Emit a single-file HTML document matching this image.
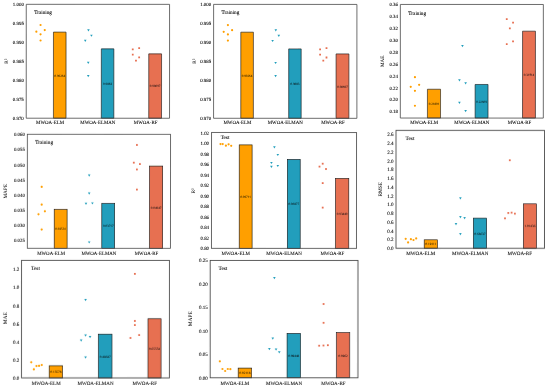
<!DOCTYPE html>
<html lang="en"><head><meta charset="utf-8"><title>Model comparison</title>
<style>html,body{margin:0;padding:0;background:#fff}body{width:550px;height:388px;overflow:hidden}svg{display:block}text{font-family:"Liberation Serif", serif;fill:#000;stroke:#000;stroke-width:0.08px;text-rendering:geometricPrecision}.tk{font-size:4.9px;text-anchor:end}.xl{font-size:4.9px;text-anchor:middle}.ti{font-size:5.2px}.yl{font-size:5.2px;text-anchor:middle;stroke-width:0.03px}.bv{font-size:3.25px;stroke-width:0.03px;text-anchor:middle;fill:#111}</style></head><body>
<svg width="550" height="388" viewBox="0 0 550 388">
<rect width="550" height="388" fill="#fff"/>
<defs><filter id="soft" x="0" y="0" width="550" height="388" filterUnits="userSpaceOnUse"><feGaussianBlur stdDeviation="0.35"/></filter></defs>
<g filter="url(#soft)"><g transform="rotate(0.02 275 194)">
<g>
<rect x="53.40" y="32.20" width="12.60" height="86.10" fill="#FF9F00" stroke="#111" stroke-width="0.6"/>
<text class="bv" style="font-size:3.25px" x="59.70" y="76.65">0.99264</text>
<rect x="101.30" y="48.90" width="12.50" height="69.40" fill="#219EBC" stroke="#111" stroke-width="0.6"/>
<text class="bv" style="font-size:3.25px" x="107.55" y="85.00">0.9883</text>
<rect x="148.70" y="53.90" width="12.80" height="64.40" fill="#E76F51" stroke="#111" stroke-width="0.6"/>
<text class="bv" style="font-size:3.25px" x="155.10" y="87.50">0.98697</text>
<circle cx="40.50" cy="25.10" r="1.1" fill="#FF9F00"/>
<circle cx="44.70" cy="30.20" r="1.1" fill="#FF9F00"/>
<circle cx="36.30" cy="31.80" r="1.1" fill="#FF9F00"/>
<circle cx="40.50" cy="34.40" r="1.1" fill="#FF9F00"/>
<circle cx="40.50" cy="40.60" r="1.1" fill="#FF9F00"/>
<path d="M87.10 29.30h2.60l-1.30 2.20z" fill="#219EBC"/>
<path d="M90.10 34.70h2.60l-1.30 2.20z" fill="#219EBC"/>
<path d="M83.90 39.90h2.60l-1.30 2.20z" fill="#219EBC"/>
<path d="M86.90 61.90h2.60l-1.30 2.20z" fill="#219EBC"/>
<path d="M86.90 75.10h2.60l-1.30 2.20z" fill="#219EBC"/>
<rect x="131.80" y="48.50" width="1.8" height="1.8" fill="#E76F51"/>
<rect x="138.20" y="47.20" width="1.8" height="1.8" fill="#E76F51"/>
<rect x="131.80" y="53.70" width="1.8" height="1.8" fill="#E76F51"/>
<rect x="138.20" y="56.60" width="1.8" height="1.8" fill="#E76F51"/>
<rect x="135.00" y="59.70" width="1.8" height="1.8" fill="#E76F51"/>
<rect x="26.20" y="4.40" width="143.30" height="113.90" fill="none" stroke="#444" stroke-width="0.78"/>
<text class="tk" style="font-size:4.90px" x="23.80" y="6.40">1.000</text>
<text class="tk" style="font-size:4.90px" x="23.80" y="25.38">0.995</text>
<text class="tk" style="font-size:4.90px" x="23.80" y="44.36">0.990</text>
<text class="tk" style="font-size:4.90px" x="23.80" y="63.34">0.985</text>
<text class="tk" style="font-size:4.90px" x="23.80" y="82.32">0.980</text>
<text class="tk" style="font-size:4.90px" x="23.80" y="101.30">0.975</text>
<text class="tk" style="font-size:4.90px" x="23.80" y="120.28">0.970</text>
<text class="xl" style="font-size:4.90px" x="50.08" y="124.20">MWOA-ELM</text>
<text class="xl" style="font-size:4.90px" x="97.85" y="124.20">MWOA-ELMAN</text>
<text class="xl" style="font-size:4.90px" x="145.62" y="124.20">MWOA-RF</text>
<text class="ti" style="font-size:5.20px" x="34.20" y="13.60">Training</text>
<text class="yl" style="font-size:5.20px" transform="translate(8.30 61.35) rotate(-90)">R²</text>
</g>
<g>
<rect x="240.75" y="32.20" width="12.60" height="86.10" fill="#FF9F00" stroke="#111" stroke-width="0.6"/>
<text class="bv" style="font-size:3.25px" x="247.05" y="76.65">0.99264</text>
<rect x="288.65" y="48.90" width="12.50" height="69.40" fill="#219EBC" stroke="#111" stroke-width="0.6"/>
<text class="bv" style="font-size:3.25px" x="294.90" y="85.00">0.9883</text>
<rect x="336.05" y="53.90" width="12.80" height="64.40" fill="#E76F51" stroke="#111" stroke-width="0.6"/>
<text class="bv" style="font-size:3.25px" x="342.45" y="87.50">0.98697</text>
<circle cx="227.85" cy="25.10" r="1.1" fill="#FF9F00"/>
<circle cx="232.05" cy="30.20" r="1.1" fill="#FF9F00"/>
<circle cx="223.65" cy="31.80" r="1.1" fill="#FF9F00"/>
<circle cx="227.85" cy="34.40" r="1.1" fill="#FF9F00"/>
<circle cx="227.85" cy="40.60" r="1.1" fill="#FF9F00"/>
<path d="M274.45 29.30h2.60l-1.30 2.20z" fill="#219EBC"/>
<path d="M277.45 34.70h2.60l-1.30 2.20z" fill="#219EBC"/>
<path d="M271.25 39.90h2.60l-1.30 2.20z" fill="#219EBC"/>
<path d="M274.25 61.90h2.60l-1.30 2.20z" fill="#219EBC"/>
<path d="M274.25 75.10h2.60l-1.30 2.20z" fill="#219EBC"/>
<rect x="319.15" y="48.50" width="1.8" height="1.8" fill="#E76F51"/>
<rect x="325.55" y="47.20" width="1.8" height="1.8" fill="#E76F51"/>
<rect x="319.15" y="53.70" width="1.8" height="1.8" fill="#E76F51"/>
<rect x="325.55" y="56.60" width="1.8" height="1.8" fill="#E76F51"/>
<rect x="322.35" y="59.70" width="1.8" height="1.8" fill="#E76F51"/>
<rect x="213.55" y="4.40" width="143.30" height="113.90" fill="none" stroke="#444" stroke-width="0.78"/>
<text class="tk" style="font-size:4.90px" x="211.15" y="6.40">1.000</text>
<text class="tk" style="font-size:4.90px" x="211.15" y="25.38">0.995</text>
<text class="tk" style="font-size:4.90px" x="211.15" y="44.36">0.990</text>
<text class="tk" style="font-size:4.90px" x="211.15" y="63.34">0.985</text>
<text class="tk" style="font-size:4.90px" x="211.15" y="82.32">0.980</text>
<text class="tk" style="font-size:4.90px" x="211.15" y="101.30">0.975</text>
<text class="tk" style="font-size:4.90px" x="211.15" y="120.28">0.970</text>
<text class="xl" style="font-size:4.90px" x="237.43" y="124.20">MWOA-ELM</text>
<text class="xl" style="font-size:4.90px" x="285.20" y="124.20">MWOA-ELMAN</text>
<text class="xl" style="font-size:4.90px" x="332.97" y="124.20">MWOA-RF</text>
<text class="ti" style="font-size:5.20px" x="221.55" y="13.60">Training</text>
<text class="yl" style="font-size:5.20px" transform="translate(195.65 61.35) rotate(-90)">R²</text>
</g>
<g>
<rect x="427.40" y="89.20" width="13.10" height="28.80" fill="#FF9F00" stroke="#111" stroke-width="0.6"/>
<text class="bv" style="font-size:3.24px" x="433.95" y="105.00">0.21801</text>
<rect x="475.10" y="84.40" width="12.90" height="33.60" fill="#219EBC" stroke="#111" stroke-width="0.6"/>
<text class="bv" style="font-size:3.24px" x="481.55" y="102.60">0.22609</text>
<rect x="522.50" y="31.10" width="12.90" height="86.90" fill="#E76F51" stroke="#111" stroke-width="0.6"/>
<text class="bv" style="font-size:3.24px" x="528.95" y="75.95">0.31514</text>
<circle cx="414.90" cy="77.10" r="1.1" fill="#FF9F00"/>
<circle cx="419.10" cy="84.80" r="1.1" fill="#FF9F00"/>
<circle cx="410.70" cy="86.80" r="1.1" fill="#FF9F00"/>
<circle cx="414.90" cy="90.80" r="1.1" fill="#FF9F00"/>
<circle cx="414.90" cy="105.70" r="1.1" fill="#FF9F00"/>
<path d="M461.10 45.00h2.60l-1.30 2.20z" fill="#219EBC"/>
<path d="M458.10 79.30h2.60l-1.30 2.20z" fill="#219EBC"/>
<path d="M464.30 82.30h2.60l-1.30 2.20z" fill="#219EBC"/>
<path d="M458.10 101.80h2.60l-1.30 2.20z" fill="#219EBC"/>
<path d="M464.30 110.00h2.60l-1.30 2.20z" fill="#219EBC"/>
<rect x="505.80" y="18.20" width="1.8" height="1.8" fill="#E76F51"/>
<rect x="512.10" y="21.70" width="1.8" height="1.8" fill="#E76F51"/>
<rect x="508.90" y="27.40" width="1.8" height="1.8" fill="#E76F51"/>
<rect x="512.10" y="40.40" width="1.8" height="1.8" fill="#E76F51"/>
<rect x="505.80" y="43.20" width="1.8" height="1.8" fill="#E76F51"/>
<rect x="400.30" y="4.40" width="143.00" height="113.60" fill="none" stroke="#444" stroke-width="0.78"/>
<text class="tk" style="font-size:4.89px" x="397.90" y="6.40">0.36</text>
<text class="tk" style="font-size:4.89px" x="397.90" y="18.28">0.34</text>
<text class="tk" style="font-size:4.89px" x="397.90" y="30.16">0.32</text>
<text class="tk" style="font-size:4.89px" x="397.90" y="42.04">0.30</text>
<text class="tk" style="font-size:4.89px" x="397.90" y="53.92">0.28</text>
<text class="tk" style="font-size:4.89px" x="397.90" y="65.80">0.26</text>
<text class="tk" style="font-size:4.89px" x="397.90" y="77.68">0.24</text>
<text class="tk" style="font-size:4.89px" x="397.90" y="89.56">0.22</text>
<text class="tk" style="font-size:4.89px" x="397.90" y="101.44">0.20</text>
<text class="tk" style="font-size:4.89px" x="397.90" y="113.32">0.18</text>
<text class="xl" style="font-size:4.89px" x="424.13" y="124.00">MWOA-ELM</text>
<text class="xl" style="font-size:4.89px" x="471.80" y="124.00">MWOA-ELMAN</text>
<text class="xl" style="font-size:4.89px" x="519.47" y="124.00">MWOA-RF</text>
<text class="ti" style="font-size:5.19px" x="408.30" y="15.00">Training</text>
<text class="yl" style="font-size:5.19px" transform="translate(384.00 61.20) rotate(-90)">MAE</text>
</g>
<g>
<rect x="54.20" y="209.50" width="12.90" height="38.80" fill="#FF9F00" stroke="#111" stroke-width="0.6"/>
<text class="bv" style="font-size:3.25px" x="60.65" y="230.30">0.03531</text>
<rect x="101.80" y="203.50" width="12.90" height="44.80" fill="#219EBC" stroke="#111" stroke-width="0.6"/>
<text class="bv" style="font-size:3.25px" x="108.25" y="227.30">0.03717</text>
<rect x="149.50" y="166.10" width="13.20" height="82.20" fill="#E76F51" stroke="#111" stroke-width="0.6"/>
<text class="bv" style="font-size:3.25px" x="156.10" y="208.60">0.04947</text>
<circle cx="41.70" cy="186.90" r="1.1" fill="#FF9F00"/>
<circle cx="41.70" cy="204.70" r="1.1" fill="#FF9F00"/>
<circle cx="44.90" cy="211.30" r="1.1" fill="#FF9F00"/>
<circle cx="38.50" cy="214.30" r="1.1" fill="#FF9F00"/>
<circle cx="41.70" cy="229.60" r="1.1" fill="#FF9F00"/>
<path d="M87.90 174.60h2.60l-1.30 2.20z" fill="#219EBC"/>
<path d="M87.90 192.50h2.60l-1.30 2.20z" fill="#219EBC"/>
<path d="M84.70 202.80h2.60l-1.30 2.20z" fill="#219EBC"/>
<path d="M91.10 202.40h2.60l-1.30 2.20z" fill="#219EBC"/>
<path d="M87.90 241.40h2.60l-1.30 2.20z" fill="#219EBC"/>
<rect x="136.00" y="144.10" width="1.8" height="1.8" fill="#E76F51"/>
<rect x="132.90" y="161.80" width="1.8" height="1.8" fill="#E76F51"/>
<rect x="139.00" y="163.20" width="1.8" height="1.8" fill="#E76F51"/>
<rect x="136.00" y="168.60" width="1.8" height="1.8" fill="#E76F51"/>
<rect x="136.00" y="188.70" width="1.8" height="1.8" fill="#E76F51"/>
<rect x="27.30" y="134.30" width="143.10" height="114.00" fill="none" stroke="#444" stroke-width="0.78"/>
<text class="tk" style="font-size:4.89px" x="24.90" y="136.30">0.060</text>
<text class="tk" style="font-size:4.89px" x="24.90" y="151.47">0.055</text>
<text class="tk" style="font-size:4.89px" x="24.90" y="166.64">0.050</text>
<text class="tk" style="font-size:4.89px" x="24.90" y="181.81">0.045</text>
<text class="tk" style="font-size:4.89px" x="24.90" y="196.98">0.040</text>
<text class="tk" style="font-size:4.89px" x="24.90" y="212.15">0.035</text>
<text class="tk" style="font-size:4.89px" x="24.90" y="227.32">0.030</text>
<text class="tk" style="font-size:4.89px" x="24.90" y="242.49">0.025</text>
<text class="xl" style="font-size:4.89px" x="51.15" y="254.60">MWOA-ELM</text>
<text class="xl" style="font-size:4.89px" x="98.85" y="254.60">MWOA-ELMAN</text>
<text class="xl" style="font-size:4.89px" x="146.55" y="254.60">MWOA-RF</text>
<text class="ti" style="font-size:5.19px" x="35.30" y="144.20">Training</text>
<text class="yl" style="font-size:5.19px" transform="translate(7.00 191.30) rotate(-90)">MAPE</text>
</g>
<g>
<rect x="239.20" y="144.90" width="12.90" height="103.40" fill="#FF9F00" stroke="#111" stroke-width="0.6"/>
<text class="bv" style="font-size:3.29px" x="245.65" y="198.00">0.99711</text>
<rect x="287.30" y="159.40" width="12.90" height="88.90" fill="#219EBC" stroke="#111" stroke-width="0.6"/>
<text class="bv" style="font-size:3.29px" x="293.75" y="205.25">0.96877</text>
<rect x="335.50" y="178.40" width="13.30" height="69.90" fill="#E76F51" stroke="#111" stroke-width="0.6"/>
<text class="bv" style="font-size:3.29px" x="342.15" y="214.75">0.93449</text>
<circle cx="220.50" cy="144.10" r="1.1" fill="#FF9F00"/>
<circle cx="222.70" cy="144.10" r="1.1" fill="#FF9F00"/>
<circle cx="225.90" cy="145.70" r="1.1" fill="#FF9F00"/>
<circle cx="228.60" cy="144.30" r="1.1" fill="#FF9F00"/>
<circle cx="231.20" cy="145.80" r="1.1" fill="#FF9F00"/>
<path d="M273.10 146.20h2.60l-1.30 2.20z" fill="#219EBC"/>
<path d="M276.50 153.90h2.60l-1.30 2.20z" fill="#219EBC"/>
<path d="M270.10 161.90h2.60l-1.30 2.20z" fill="#219EBC"/>
<path d="M270.10 165.70h2.60l-1.30 2.20z" fill="#219EBC"/>
<path d="M276.50 164.90h2.60l-1.30 2.20z" fill="#219EBC"/>
<rect x="321.80" y="162.80" width="1.8" height="1.8" fill="#E76F51"/>
<rect x="318.60" y="165.70" width="1.8" height="1.8" fill="#E76F51"/>
<rect x="325.10" y="168.10" width="1.8" height="1.8" fill="#E76F51"/>
<rect x="321.80" y="182.20" width="1.8" height="1.8" fill="#E76F51"/>
<rect x="321.80" y="206.70" width="1.8" height="1.8" fill="#E76F51"/>
<rect x="211.50" y="132.60" width="145.10" height="115.70" fill="none" stroke="#444" stroke-width="0.81"/>
<text class="tk" style="font-size:4.96px" x="209.10" y="134.70">1.02</text>
<text class="tk" style="font-size:4.96px" x="209.10" y="145.21">1.00</text>
<text class="tk" style="font-size:4.96px" x="209.10" y="155.72">0.98</text>
<text class="tk" style="font-size:4.96px" x="209.10" y="166.23">0.96</text>
<text class="tk" style="font-size:4.96px" x="209.10" y="176.74">0.94</text>
<text class="tk" style="font-size:4.96px" x="209.10" y="187.25">0.92</text>
<text class="tk" style="font-size:4.96px" x="209.10" y="197.76">0.90</text>
<text class="tk" style="font-size:4.96px" x="209.10" y="208.27">0.88</text>
<text class="tk" style="font-size:4.96px" x="209.10" y="218.78">0.86</text>
<text class="tk" style="font-size:4.96px" x="209.10" y="229.29">0.84</text>
<text class="tk" style="font-size:4.96px" x="209.10" y="239.80">0.82</text>
<text class="tk" style="font-size:4.96px" x="209.10" y="250.31">0.80</text>
<text class="xl" style="font-size:4.96px" x="235.68" y="254.60">MWOA-ELM</text>
<text class="xl" style="font-size:4.96px" x="284.05" y="254.60">MWOA-ELMAN</text>
<text class="xl" style="font-size:4.96px" x="332.42" y="254.60">MWOA-RF</text>
<text class="ti" style="font-size:5.27px" x="220.70" y="139.40">Test</text>
<text class="yl" style="font-size:5.27px" transform="translate(195.30 190.95) rotate(-90)">R²</text>
</g>
<g>
<rect x="424.20" y="239.80" width="13.30" height="8.40" fill="#FF9F00" stroke="#111" stroke-width="0.6"/>
<text class="bv" style="font-size:3.37px" x="430.85" y="245.40">0.19111</text>
<rect x="473.30" y="218.10" width="13.40" height="30.10" fill="#219EBC" stroke="#111" stroke-width="0.6"/>
<text class="bv" style="font-size:3.37px" x="480.00" y="234.55">0.68637</text>
<rect x="523.40" y="203.80" width="13.10" height="44.40" fill="#E76F51" stroke="#111" stroke-width="0.6"/>
<text class="bv" style="font-size:3.37px" x="529.95" y="227.40">1.01436</text>
<circle cx="405.70" cy="238.80" r="1.1" fill="#FF9F00"/>
<circle cx="408.10" cy="242.40" r="1.1" fill="#FF9F00"/>
<circle cx="410.90" cy="239.20" r="1.1" fill="#FF9F00"/>
<circle cx="413.50" cy="240.00" r="1.1" fill="#FF9F00"/>
<circle cx="416.20" cy="238.40" r="1.1" fill="#FF9F00"/>
<path d="M459.10 197.20h2.60l-1.30 2.20z" fill="#219EBC"/>
<path d="M459.10 216.10h2.60l-1.30 2.20z" fill="#219EBC"/>
<path d="M463.30 217.10h2.60l-1.30 2.20z" fill="#219EBC"/>
<path d="M454.70 223.00h2.60l-1.30 2.20z" fill="#219EBC"/>
<path d="M459.10 233.00h2.60l-1.30 2.20z" fill="#219EBC"/>
<rect x="508.90" y="159.30" width="1.8" height="1.8" fill="#E76F51"/>
<rect x="507.40" y="212.00" width="1.8" height="1.8" fill="#E76F51"/>
<rect x="510.70" y="211.70" width="1.8" height="1.8" fill="#E76F51"/>
<rect x="514.00" y="212.70" width="1.8" height="1.8" fill="#E76F51"/>
<rect x="504.10" y="217.40" width="1.8" height="1.8" fill="#E76F51"/>
<rect x="396.00" y="130.30" width="148.50" height="117.90" fill="none" stroke="#444" stroke-width="0.87"/>
<text class="tk" style="font-size:5.08px" x="393.60" y="136.30">2.6</text>
<text class="tk" style="font-size:5.08px" x="393.60" y="145.06">2.4</text>
<text class="tk" style="font-size:5.08px" x="393.60" y="153.82">2.2</text>
<text class="tk" style="font-size:5.08px" x="393.60" y="162.58">2.0</text>
<text class="tk" style="font-size:5.08px" x="393.60" y="171.34">1.8</text>
<text class="tk" style="font-size:5.08px" x="393.60" y="180.10">1.6</text>
<text class="tk" style="font-size:5.08px" x="393.60" y="188.86">1.4</text>
<text class="tk" style="font-size:5.08px" x="393.60" y="197.62">1.2</text>
<text class="tk" style="font-size:5.08px" x="393.60" y="206.38">1.0</text>
<text class="tk" style="font-size:5.08px" x="393.60" y="215.14">0.8</text>
<text class="tk" style="font-size:5.08px" x="393.60" y="223.90">0.6</text>
<text class="tk" style="font-size:5.08px" x="393.60" y="232.66">0.4</text>
<text class="tk" style="font-size:5.08px" x="393.60" y="241.42">0.2</text>
<text class="tk" style="font-size:5.08px" x="393.60" y="250.18">0.0</text>
<text class="xl" style="font-size:5.08px" x="420.75" y="254.50">MWOA-ELM</text>
<text class="xl" style="font-size:5.08px" x="470.25" y="254.50">MWOA-ELMAN</text>
<text class="xl" style="font-size:5.08px" x="519.75" y="254.50">MWOA-RF</text>
<text class="ti" style="font-size:5.39px" x="405.50" y="139.60">Test</text>
<text class="yl" style="font-size:5.39px" transform="translate(382.00 189.25) rotate(-90)">RMSE</text>
</g>
<g>
<rect x="49.20" y="365.90" width="13.50" height="12.10" fill="#FF9F00" stroke="#111" stroke-width="0.6"/>
<text class="bv" style="font-size:3.35px" x="55.95" y="373.35">0.13578</text>
<rect x="98.50" y="334.20" width="13.50" height="43.80" fill="#219EBC" stroke="#111" stroke-width="0.6"/>
<text class="bv" style="font-size:3.35px" x="105.25" y="357.50">0.48647</text>
<rect x="148.00" y="318.80" width="13.10" height="59.20" fill="#E76F51" stroke="#111" stroke-width="0.6"/>
<text class="bv" style="font-size:3.35px" x="154.55" y="349.80">0.65554</text>
<circle cx="31.30" cy="362.30" r="1.1" fill="#FF9F00"/>
<circle cx="33.90" cy="369.40" r="1.1" fill="#FF9F00"/>
<circle cx="36.50" cy="366.10" r="1.1" fill="#FF9F00"/>
<circle cx="39.10" cy="365.90" r="1.1" fill="#FF9F00"/>
<circle cx="41.80" cy="365.10" r="1.1" fill="#FF9F00"/>
<path d="M84.30 299.10h2.60l-1.30 2.20z" fill="#219EBC"/>
<path d="M84.30 334.50h2.60l-1.30 2.20z" fill="#219EBC"/>
<path d="M88.80 336.10h2.60l-1.30 2.20z" fill="#219EBC"/>
<path d="M79.90 339.50h2.60l-1.30 2.20z" fill="#219EBC"/>
<path d="M84.30 356.60h2.60l-1.30 2.20z" fill="#219EBC"/>
<rect x="134.00" y="273.00" width="1.8" height="1.8" fill="#E76F51"/>
<rect x="134.00" y="320.10" width="1.8" height="1.8" fill="#E76F51"/>
<rect x="134.00" y="324.20" width="1.8" height="1.8" fill="#E76F51"/>
<rect x="138.30" y="334.20" width="1.8" height="1.8" fill="#E76F51"/>
<rect x="129.60" y="337.10" width="1.8" height="1.8" fill="#E76F51"/>
<rect x="21.60" y="260.40" width="147.80" height="117.60" fill="none" stroke="#444" stroke-width="0.86"/>
<text class="tk" style="font-size:5.05px" x="19.20" y="271.40">1.2</text>
<text class="tk" style="font-size:5.05px" x="19.20" y="289.48">1.0</text>
<text class="tk" style="font-size:5.05px" x="19.20" y="307.56">0.8</text>
<text class="tk" style="font-size:5.05px" x="19.20" y="325.64">0.6</text>
<text class="tk" style="font-size:5.05px" x="19.20" y="343.72">0.4</text>
<text class="tk" style="font-size:5.05px" x="19.20" y="361.80">0.2</text>
<text class="tk" style="font-size:5.05px" x="19.20" y="379.88">0.0</text>
<text class="xl" style="font-size:5.05px" x="46.23" y="384.50">MWOA-ELM</text>
<text class="xl" style="font-size:5.05px" x="95.50" y="384.50">MWOA-ELMAN</text>
<text class="xl" style="font-size:5.05px" x="144.77" y="384.50">MWOA-RF</text>
<text class="ti" style="font-size:5.36px" x="31.10" y="270.40">Test</text>
<text class="yl" style="font-size:5.36px" transform="translate(7.40 318.30) rotate(-90)">MAE</text>
</g>
<g>
<rect x="238.20" y="368.10" width="13.50" height="9.70" fill="#FF9F00" stroke="#111" stroke-width="0.6"/>
<text class="bv" style="font-size:3.35px" x="244.95" y="374.35">0.02118</text>
<rect x="287.10" y="333.40" width="13.50" height="44.40" fill="#219EBC" stroke="#111" stroke-width="0.6"/>
<text class="bv" style="font-size:3.35px" x="293.85" y="357.00">0.09448</text>
<rect x="336.60" y="332.60" width="13.20" height="45.20" fill="#E76F51" stroke="#111" stroke-width="0.6"/>
<text class="bv" style="font-size:3.35px" x="343.20" y="356.60">0.0962</text>
<circle cx="219.90" cy="361.30" r="1.1" fill="#FF9F00"/>
<circle cx="222.50" cy="369.00" r="1.1" fill="#FF9F00"/>
<circle cx="225.20" cy="371.00" r="1.1" fill="#FF9F00"/>
<circle cx="227.80" cy="369.00" r="1.1" fill="#FF9F00"/>
<circle cx="230.40" cy="369.20" r="1.1" fill="#FF9F00"/>
<path d="M273.10 277.00h2.60l-1.30 2.20z" fill="#219EBC"/>
<path d="M271.50 337.50h2.60l-1.30 2.20z" fill="#219EBC"/>
<path d="M268.10 348.10h2.60l-1.30 2.20z" fill="#219EBC"/>
<path d="M274.80 348.50h2.60l-1.30 2.20z" fill="#219EBC"/>
<path d="M278.00 351.20h2.60l-1.30 2.20z" fill="#219EBC"/>
<rect x="322.70" y="303.10" width="1.8" height="1.8" fill="#E76F51"/>
<rect x="322.70" y="321.90" width="1.8" height="1.8" fill="#E76F51"/>
<rect x="318.30" y="344.80" width="1.8" height="1.8" fill="#E76F51"/>
<rect x="322.60" y="344.60" width="1.8" height="1.8" fill="#E76F51"/>
<rect x="327.00" y="344.30" width="1.8" height="1.8" fill="#E76F51"/>
<rect x="210.20" y="260.40" width="147.80" height="117.40" fill="none" stroke="#444" stroke-width="0.86"/>
<text class="tk" style="font-size:5.05px" x="207.80" y="262.40">0.25</text>
<text class="tk" style="font-size:5.05px" x="207.80" y="285.88">0.20</text>
<text class="tk" style="font-size:5.05px" x="207.80" y="309.36">0.15</text>
<text class="tk" style="font-size:5.05px" x="207.80" y="332.84">0.10</text>
<text class="tk" style="font-size:5.05px" x="207.80" y="356.32">0.05</text>
<text class="tk" style="font-size:5.05px" x="207.80" y="379.80">0.00</text>
<text class="xl" style="font-size:5.05px" x="234.83" y="384.50">MWOA-ELM</text>
<text class="xl" style="font-size:5.05px" x="284.10" y="384.50">MWOA-ELMAN</text>
<text class="xl" style="font-size:5.05px" x="333.37" y="384.50">MWOA-RF</text>
<text class="ti" style="font-size:5.36px" x="218.50" y="270.20">Test</text>
<text class="yl" style="font-size:5.36px" transform="translate(192.40 318.80) rotate(-90)">MAPE</text>
</g>
</g></g></svg></body></html>
